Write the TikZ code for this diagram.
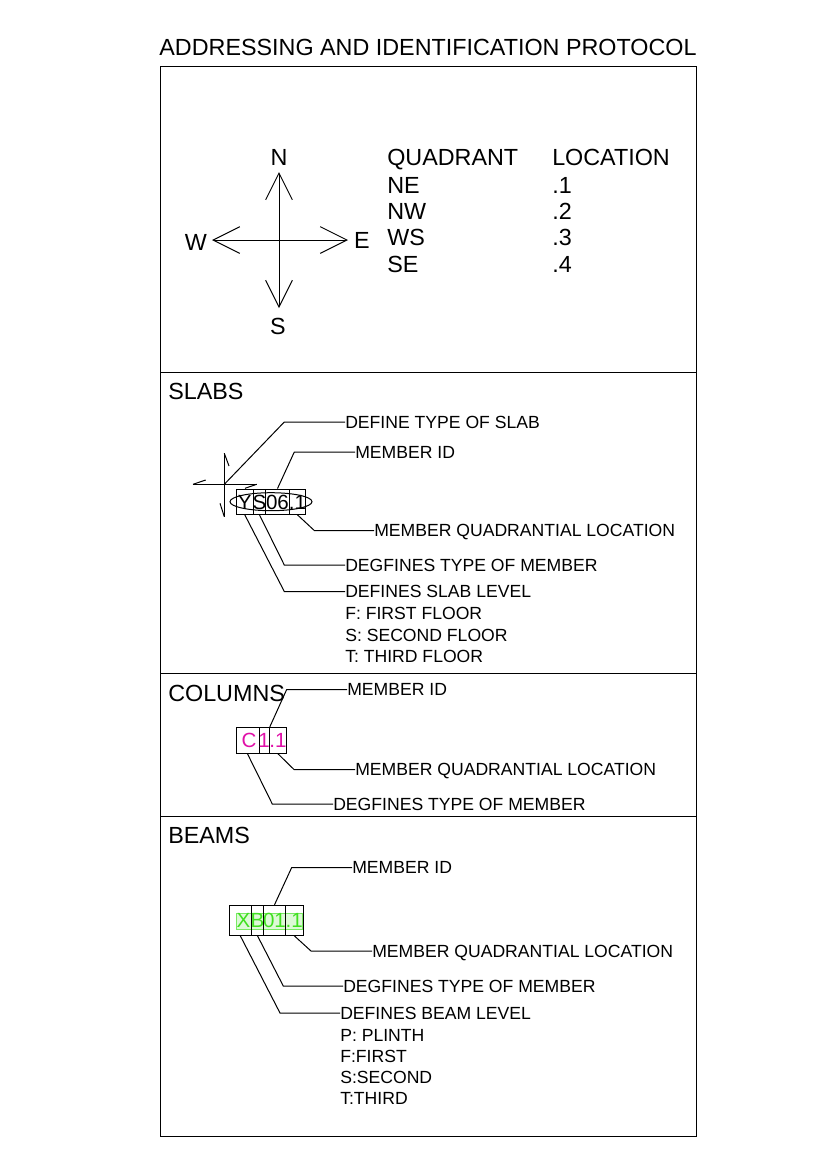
\documentclass[tikz,border=0pt]{standalone}
\usepackage{fontspec}
\setmainfont{Liberation Sans}
\usetikzlibrary{arrows.meta}
\definecolor{slabmagenta}{HTML}{E010A8}
\definecolor{beamgreen}{HTML}{40E020}
\newcommand{\cellt}[2][0pt]{\makebox[0pt]{\hspace*{#1}#2}}
\tikzset{
  bigtext/.style={font=\fontsize{17.5}{20}\selectfont, inner sep=0pt, text height=12.5pt, text depth=0pt},
  smalltext/.style={font=\fontsize{13.2}{16}\selectfont, inner sep=0pt, text height=9.5pt, text depth=0pt, anchor=west},
  celltext/.style={draw, line width=0.75pt, inner sep=0pt, font=\fontsize{15.4}{17}\selectfont, text height=11pt, text depth=0pt},
  leader/.style={line width=0.75pt},
  compassarrow/.style={line width=0.75pt, {Straight Barb[length=20pt,width=20pt,line width=0.75pt]}-{Straight Barb[length=20pt,width=20pt,line width=0.75pt]}}
}
\begin{document}
\begin{tikzpicture}[x=0.75pt,y=-0.75pt]
\useasboundingbox (0,0) rectangle (830,1168);
% Frame and the section dividers
\draw[line width=0.75pt] (160,66) rectangle (696,1136);
\draw[line width=0.75pt] (160,372) -- (696,372);
\draw[line width=0.75pt] (160,673) -- (696,673);
\draw[line width=0.75pt] (160,816) -- (696,816);
\node[bigtext] (title) at (428,47) {ADDRESSING AND IDENTIFICATION PROTOCOL};

% Compass
\node[bigtext] (north) at (279,157) {N};
\node[bigtext] (south) at (278,326) {S};
\node[bigtext] (west) at (196,242) {W};
\node[bigtext] (east) at (362,240) {E};
\coordinate (tipN) at (279,172);
\coordinate (tipS) at (279,308);
\coordinate (tipW) at (212,240);
\coordinate (tipE) at (348,240);
\draw[compassarrow] (tipS) -- (tipN);
\draw[compassarrow] (tipW) -- (tipE);

% Quadrant table
\node[bigtext, anchor=west] (quadrant) at (387,157) {QUADRANT};
\node[bigtext, anchor=west] (location) at (552,157) {LOCATION};
\node[bigtext, anchor=west] (ne) at (387,185) {NE};
\node[bigtext, anchor=west] (nw) at (387,211) {NW};
\node[bigtext, anchor=west] (ws) at (387,237) {WS};
\node[bigtext, anchor=west] (se) at (387,264) {SE};
\node[bigtext, anchor=west] (loca) at (552,185) {.1};
\node[bigtext, anchor=west] (locb) at (552,211) {.2};
\node[bigtext, anchor=west] (locc) at (552,237) {.3};
\node[bigtext, anchor=west] (locd) at (552,264) {.4};

% Slabs
\node[bigtext, anchor=west] (slabs) at (168,391) {SLABS};
\coordinate (slabmark) at (224.3,484.3);
\draw[leader] (193,484.3) -- (256.7,484.3);
\draw[leader] (224.3,453.3) -- (224.3,516.7);
\draw[leader] (224.3,453.3) -- (229,466);
\draw[leader] (193,484.3) -- (205.7,480);
\draw[leader] (256.7,484.3) -- (245,488.3);
\draw[leader] (224.3,516.7) -- (220,503.3);
\node[celltext, minimum width=17pt*0.75, minimum height=19pt] (slabY) at (244.8,501.7) {\cellt{Y}};
\node[celltext, minimum width=12.4pt*0.75, minimum height=19pt] (slabS) at (259.5,501.7) {\cellt{S}};
\node[celltext, minimum width=23.6pt*0.75, minimum height=19pt] (slabNo) at (277.5,501.7) {\cellt{06}};
\node[celltext, minimum width=16.4pt*0.75, minimum height=19pt] (slabQ) at (297.5,501.7) {\cellt{.1}};
\draw[leader] (271,501.7) ellipse [x radius=41, y radius=9];
\node[smalltext] (slabdefine) at (345,422) {DEFINE TYPE OF SLAB};
\node[smalltext] (slabid) at (355,452) {MEMBER ID};
\node[smalltext] (slabquad) at (374,530.5) {MEMBER QUADRANTIAL LOCATION};
\node[smalltext] (slabtype) at (345,565) {DEGFINES TYPE OF MEMBER};
\node[smalltext] (slablevel) at (345,591.5) {DEFINES SLAB LEVEL};
\node[smalltext] (slabF) at (345,613) {F: FIRST FLOOR};
\node[smalltext] (slabSS) at (345,635) {S: SECOND FLOOR};
\node[smalltext] (slabT) at (345,656) {T: THIRD FLOOR};
\draw[leader] (slabmark) -- (284.3,422) -- (slabdefine.west);
\draw[leader] (slabNo.north) -- (294.3,452) -- (slabid.west);
\draw[leader] (slabQ.south) -- (314.3,530.5) -- (slabquad.west);
\draw[leader] (slabS.south) -- (284.3,565) -- (slabtype.west);
\draw[leader] (slabY.south) -- (284.3,591.5) -- (slablevel.west);

% Columns
\node[bigtext, anchor=west] (columns) at (168,693) {COLUMNS};
\node[celltext, text=slabmagenta, minimum width=23pt*0.75, minimum height=19.5pt] (colC) at (247.5,740.3) {\cellt[2.2pt]{C}};
\node[celltext, text=slabmagenta, minimum width=10.3pt*0.75, minimum height=19.5pt] (colNo) at (264.2,740.3) {\cellt{1}};
\node[celltext, text=slabmagenta, minimum width=17.4pt*0.75, minimum height=19.5pt] (colQ) at (278,740.3) {\cellt{.1}};
\node[smalltext] (colid) at (347,689.5) {MEMBER ID};
\node[smalltext] (colquad) at (355,769.5) {MEMBER QUADRANTIAL LOCATION};
\node[smalltext] (coltype) at (333,804) {DEGFINES TYPE OF MEMBER};
\draw[leader] (colNo.north east) -- (286.7,689.5) -- (colid.west);
\draw[leader] (colQ.south) -- (294,769.5) -- (colquad.west);
\draw[leader] (colC.south) -- (272.3,804) -- (coltype.west);

% Beams
\node[bigtext, anchor=west] (beams) at (168,835) {BEAMS};
\node[fill=beamgreen!18, draw=beamgreen!70, line width=0.4pt, inner sep=0pt, minimum width=66pt*0.75, minimum height=15.5pt*0.75] (beamback) at (269,921.5) {};
\node[celltext, text=beamgreen, minimum width=22pt*0.75, minimum height=22.5pt] (beamX) at (240.3,920.3) {\cellt[4.8pt]{X}};
\node[celltext, text=beamgreen, minimum width=12.4pt*0.75, minimum height=22.5pt] (beamB) at (257.5,920.3) {\cellt{B}};
\node[celltext, text=beamgreen, minimum width=21.6pt*0.75, minimum height=22.5pt] (beamNo) at (274.5,920.3) {\cellt{01}};
\node[celltext, text=beamgreen, minimum width=18pt*0.75, minimum height=22.5pt] (beamQ) at (294.3,920.3) {\cellt{.1}};
\node[smalltext] (beamid) at (352,867.5) {MEMBER ID};
\node[smalltext] (beamquad) at (372,951) {MEMBER QUADRANTIAL LOCATION};
\node[smalltext] (beamtype) at (343,986) {DEGFINES TYPE OF MEMBER};
\node[smalltext] (beamlevel) at (340,1013) {DEFINES BEAM LEVEL};
\node[smalltext] (beamP) at (340,1035) {P: PLINTH};
\node[smalltext] (beamF) at (340,1056) {F:FIRST};
\node[smalltext] (beamS) at (340,1077) {S:SECOND};
\node[smalltext] (beamT) at (340,1098) {T:THIRD};
\draw[leader] (beamNo.north) -- (291.7,867.5) -- (beamid.west);
\draw[leader] (beamQ.south) -- (311,951) -- (beamquad.west);
\draw[leader] (beamB.south) -- (283.3,986) -- (beamtype.west);
\draw[leader] (beamX.south) -- (280,1013) -- (beamlevel.west);
\end{tikzpicture}
\end{document}
